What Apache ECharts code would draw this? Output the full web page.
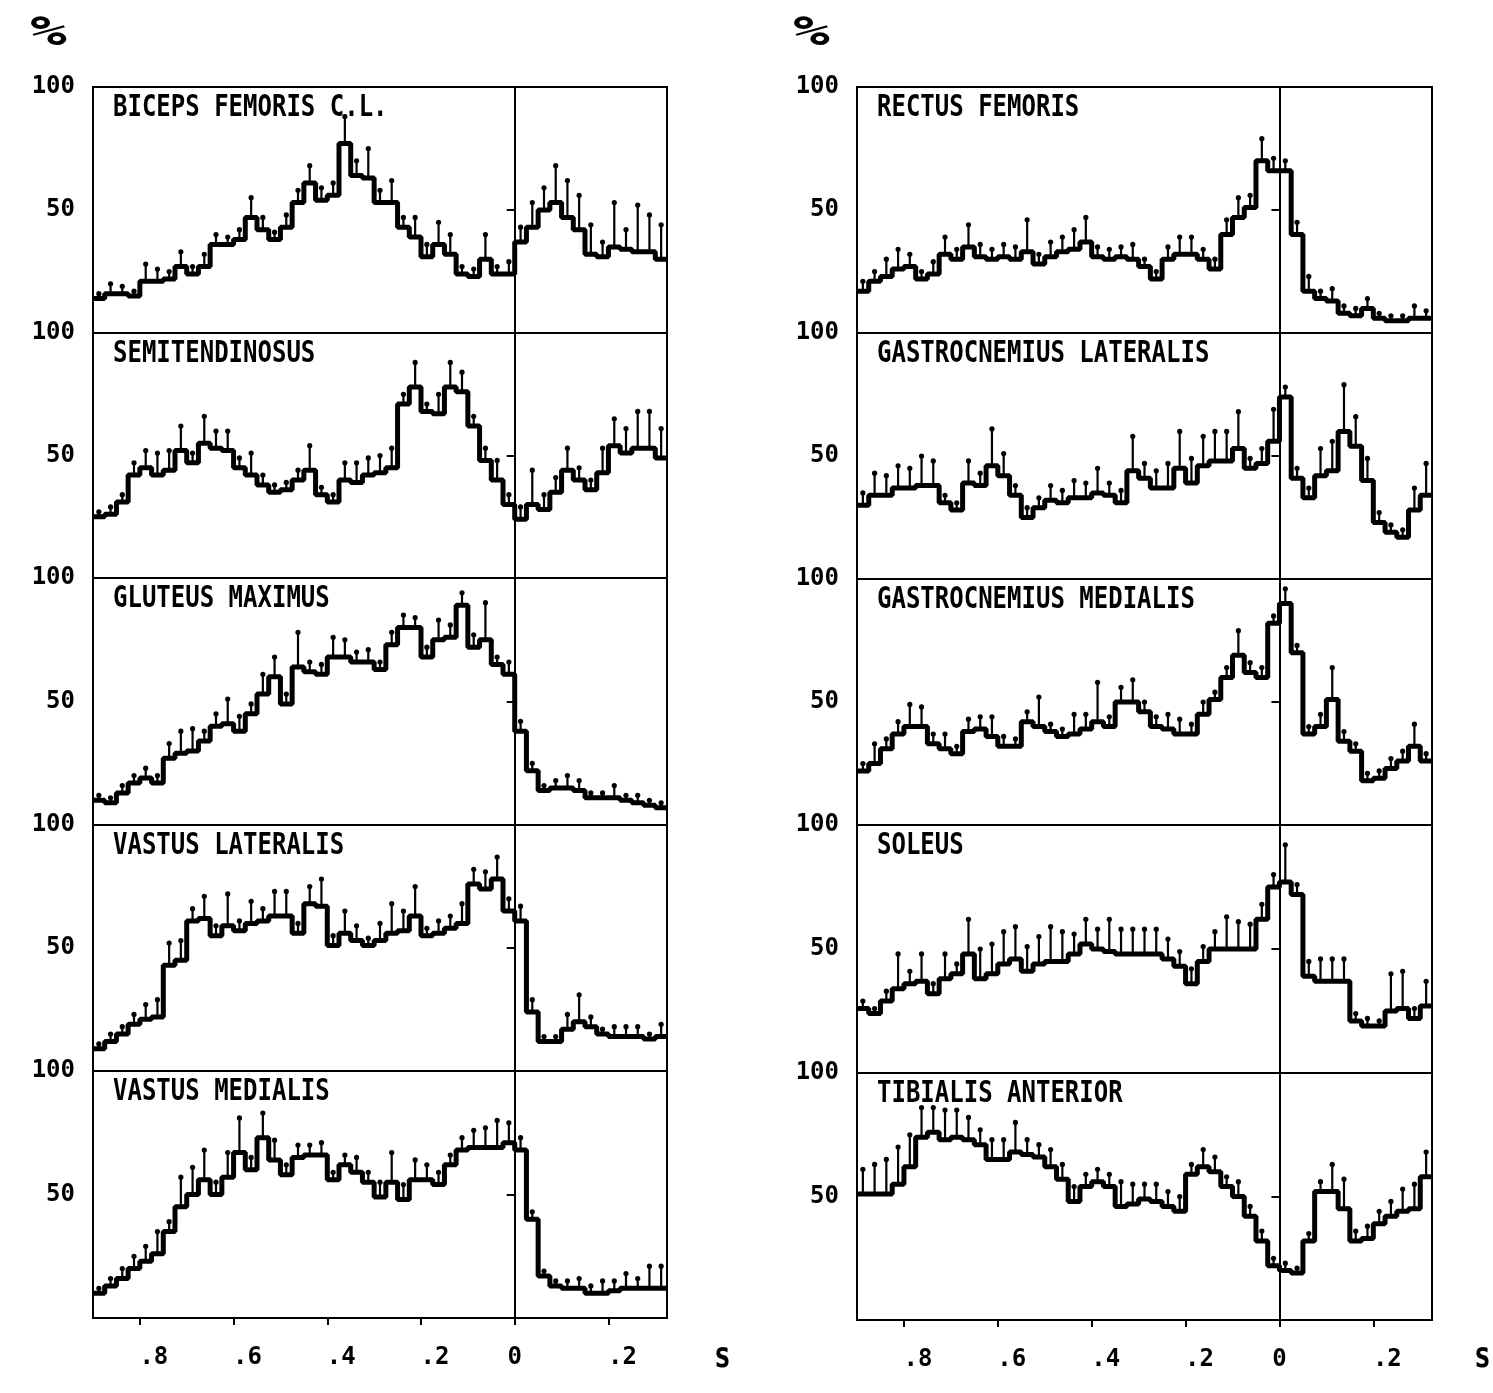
<!DOCTYPE html>
<html>
<head>
<meta charset="utf-8">
<title>EMG</title>
<script src="https://cdn.jsdelivr.net/npm/echarts@6/dist/echarts.min.js"></script>
<style>
  html, body { margin: 0; padding: 0; background: #fff; }
  #chart { width: 1493px; height: 1393px; }
</style>
</head>
<body>
<div id="chart"></div>
<script>
// time bins: 25 ms, from -0.9 s to +0.325 s (49 bins)
const binStart = -0.9
const binWidth = 0.025
const xTicks = [-0.8, -0.6, -0.4, -0.2, 0, 0.2]

const muscleNames = [
  'BICEPS FEMORIS C.L.', 'SEMITENDINOSUS', 'GLUTEUS MAXIMUS', 'VASTUS LATERALIS', 'VASTUS MEDIALIS',
  'RECTUS FEMORIS', 'GASTROCNEMIUS LATERALIS', 'GASTROCNEMIUS MEDIALIS', 'SOLEUS', 'TIBIALIS ANTERIOR'
]

// mean activity (%) per bin
const bicepsMean = [14, 16, 16, 15, 21, 21, 22, 27, 24, 27, 36, 36, 38, 47, 42, 38, 43, 53, 61, 54, 56, 77, 64, 63, 53, 53, 43, 39, 31, 36, 32, 24, 23, 30, 24, 24, 37, 43, 50, 53, 47, 42, 32, 31, 35, 34, 33, 33, 30]
const semitendMean = [25, 26, 31, 42, 45, 42, 44, 52, 47, 55, 53, 52, 45, 42, 38, 35, 36, 40, 44, 34, 31, 40, 39, 42, 43, 45, 71, 78, 68, 67, 78, 76, 62, 48, 40, 30, 24, 30, 28, 35, 44, 40, 36, 43, 54, 51, 53, 53, 49]
const gluteusMean = [10, 9, 13, 17, 19, 17, 27, 29, 30, 34, 40, 41, 38, 45, 53, 60, 49, 64, 62, 61, 68, 68, 66, 66, 63, 73, 80, 80, 68, 75, 76, 89, 72, 75, 65, 61, 38, 22, 14, 15, 15, 14, 11, 11, 11, 10, 9, 8, 7]
const vastLatMean = [9, 12, 15, 19, 21, 22, 43, 45, 61, 62, 55, 59, 57, 60, 61, 63, 63, 56, 68, 67, 51, 56, 53, 51, 53, 56, 57, 63, 55, 56, 58, 60, 76, 74, 78, 65, 61, 24, 12, 12, 17, 20, 18, 15, 14, 14, 14, 13, 14]
const vastMedMean = [10, 13, 16, 20, 23, 26, 35, 45, 50, 56, 50, 57, 67, 60, 73, 64, 58, 65, 66, 66, 56, 62, 59, 55, 49, 55, 48, 56, 56, 54, 62, 68, 69, 69, 69, 71, 68, 40, 17, 13, 12, 12, 10, 10, 11, 12, 12, 12, 12]
const rectusMean = [17, 21, 23, 26, 27, 22, 24, 32, 30, 35, 31, 30, 31, 30, 33, 28, 31, 33, 34, 37, 31, 30, 31, 30, 27, 22, 30, 32, 32, 30, 26, 40, 47, 51, 70, 66, 66, 40, 17, 14, 13, 8, 7, 10, 6, 5, 5, 6, 6]
const gastroLatMean = [30, 34, 34, 37, 37, 38, 38, 31, 28, 39, 38, 46, 42, 34, 25, 29, 32, 31, 33, 33, 35, 34, 31, 44, 41, 37, 37, 45, 39, 46, 48, 48, 53, 45, 47, 56, 74, 41, 33, 42, 44, 60, 54, 40, 23, 19, 17, 28, 34]
const gastroMedMean = [22, 25, 31, 37, 40, 40, 33, 31, 29, 38, 39, 36, 32, 32, 42, 40, 38, 36, 37, 39, 42, 40, 50, 50, 46, 40, 39, 37, 37, 45, 51, 60, 69, 62, 60, 82, 90, 70, 37, 40, 51, 34, 30, 18, 19, 23, 26, 32, 26]
const soleusMean = [26, 24, 29, 34, 36, 37, 32, 38, 40, 48, 38, 40, 44, 46, 41, 44, 45, 45, 48, 52, 50, 49, 48, 48, 48, 48, 46, 43, 36, 45, 50, 50, 50, 50, 62, 75, 77, 72, 39, 37, 37, 37, 21, 19, 19, 25, 26, 22, 27]
const tibialisMean = [51, 51, 51, 55, 62, 74, 76, 73, 74, 73, 71, 65, 65, 68, 67, 66, 62, 57, 48, 54, 56, 54, 46, 47, 49, 48, 46, 44, 59, 62, 60, 54, 50, 42, 32, 22, 20, 19, 32, 52, 52, 45, 32, 33, 39, 42, 44, 45, 58]

// upward error bar (SD) per bin
const bicepsSd = [2, 4, 3, 2, 7, 5, 3, 6, 3, 5, 4, 3, 4, 8, 5, 3, 5, 5, 7, 5, 5, 11, 6, 12, 5, 9, 4, 8, 5, 9, 8, 3, 3, 10, 3, 5, 6, 10, 9, 15, 15, 14, 12, 6, 18, 8, 19, 15, 14]
const semitendSd = [2, 3, 3, 5, 7, 9, 8, 10, 4, 11, 7, 8, 4, 9, 4, 3, 3, 4, 10, 3, 3, 7, 8, 7, 7, 8, 4, 10, 3, 8, 10, 8, 4, 5, 8, 4, 5, 14, 6, 6, 9, 5, 4, 10, 11, 10, 15, 15, 12]
const gluteusSd = [2, 2, 3, 3, 4, 3, 6, 9, 9, 4, 5, 10, 6, 4, 8, 8, 4, 14, 4, 4, 8, 7, 4, 5, 3, 5, 5, 4, 4, 8, 5, 5, 5, 15, 3, 5, 4, 3, 2, 3, 5, 4, 2, 2, 5, 2, 3, 2, 2]
const vastLatSd = [2, 3, 3, 4, 6, 7, 9, 8, 5, 9, 4, 13, 4, 9, 5, 10, 10, 4, 7, 11, 4, 9, 6, 3, 7, 12, 8, 12, 3, 5, 5, 8, 6, 7, 9, 5, 6, 5, 2, 2, 6, 11, 4, 2, 4, 4, 4, 2, 5]
const vastMedSd = [2, 3, 4, 5, 6, 9, 4, 12, 11, 12, 5, 10, 14, 5, 10, 8, 4, 5, 4, 5, 3, 4, 6, 4, 6, 12, 6, 8, 6, 5, 4, 5, 7, 8, 11, 8, 5, 3, 2, 2, 3, 4, 3, 5, 4, 6, 4, 9, 9]
const rectusSd = [4, 4, 7, 8, 5, 3, 5, 7, 4, 9, 5, 4, 5, 5, 13, 4, 6, 6, 8, 10, 4, 4, 4, 6, 3, 3, 5, 7, 7, 4, 4, 6, 8, 5, 9, 5, 4, 5, 6, 3, 5, 3, 3, 4, 2, 2, 2, 5, 3]
const gastroLatSd = [5, 9, 8, 9, 8, 12, 10, 3, 3, 9, 5, 15, 9, 4, 4, 4, 6, 5, 7, 6, 10, 5, 5, 14, 6, 7, 10, 15, 10, 12, 12, 12, 15, 4, 6, 13, 4, 4, 4, 11, 12, 19, 12, 9, 4, 3, 3, 9, 13]
const gastroMedSd = [3, 8, 4, 5, 9, 8, 4, 6, 3, 5, 5, 8, 4, 3, 4, 12, 3, 3, 8, 6, 16, 4, 6, 9, 4, 4, 6, 6, 4, 5, 3, 4, 10, 4, 4, 3, 6, 3, 3, 5, 13, 4, 3, 3, 3, 4, 4, 9, 3]
const soleusSd = [3, 2, 4, 14, 5, 11, 4, 10, 4, 14, 12, 12, 13, 13, 10, 11, 14, 12, 8, 10, 8, 13, 10, 10, 10, 10, 8, 6, 6, 6, 7, 13, 11, 10, 6, 5, 15, 4, 6, 9, 9, 9, 3, 3, 2, 15, 15, 4, 10]
const tibialisSd = [10, 12, 14, 15, 13, 12, 10, 12, 11, 9, 6, 8, 8, 12, 6, 5, 7, 6, 6, 5, 5, 5, 10, 8, 6, 7, 6, 6, 4, 7, 6, 4, 6, 4, 4, 3, 3, 2, 3, 4, 11, 12, 4, 5, 5, 6, 9, 10, 10]

const means = [bicepsMean, semitendMean, gluteusMean, vastLatMean, vastMedMean, rectusMean, gastroLatMean, gastroMedMean, soleusMean, tibialisMean]
const sds = [bicepsSd, semitendSd, gluteusSd, vastLatSd, vastMedSd, rectusSd, gastroLatSd, gastroMedSd, soleusSd, tibialisSd]

// panel frame (pixels)
const colLeft = [93, 857]
const colWidth = [574, 575]
const rowEdges = [[87, 333, 578, 825, 1071, 1318], [87, 333, 579, 825, 1073, 1320]]

// plotter-like lettering: monospace, stretched a bit vertically
const FONT = "'DejaVu Sans Mono', monospace"

const chart = echarts.init(document.getElementById('chart'), null, { renderer: 'canvas' })

const grid = []
const xAxis = []
const yAxis = []
const series = []
const graphic = []

function label (text, x, y, size, sx, sy) {
  return {
    type: 'text',
    x: x,
    y: y,
    scaleX: sx || 1,
    scaleY: sy || 1.25,
    silent: true,
    style: { text: text, font: 'bold ' + size + 'px ' + FONT, fill: '#000', verticalAlign: 'top' }
  }
}

for (let p = 0; p < 10; p++) {
  const col = p < 5 ? 0 : 1
  const row = p % 5
  const top = rowEdges[col][row]
  const height = rowEdges[col][row + 1] - top
  const isBottom = row === 4
  grid.push({
    left: colLeft[col],
    top: top,
    width: colWidth[col],
    height: height,
    show: true,
    borderColor: '#000',
    borderWidth: 2,
    backgroundColor: 'transparent'
  })
  xAxis.push({
    gridIndex: p,
    type: 'value',
    min: -0.9,
    max: 0.325,
    axisLine: { show: isBottom, lineStyle: { color: '#000', width: 2 } },
    splitLine: { show: false },
    axisTick: {
      show: isBottom,
      customValues: xTicks,
      length: 7,
      lineStyle: { color: '#000', width: 2 }
    },
    axisLabel: {
      show: isBottom,
      customValues: xTicks,
      margin: 28,
      formatter: v => {
        if (Math.abs(v) < 1e-9) return '{z|0}'
        return '{n|.' + Math.round(Math.abs(v) * 10) + '}'
      },
      rich: {
        z: { fontFamily: FONT, fontWeight: 'bold', fontSize: 24, color: '#000' },
        n: { fontFamily: FONT, fontWeight: 'bold', fontSize: 24, color: '#000', padding: [0, 0, 0, 28] }
      }
    }
  })
  yAxis.push({
    gridIndex: p,
    type: 'value',
    min: 0,
    max: 100,
    interval: 50,
    axisLine: { show: true, lineStyle: { color: '#000', width: 2 } },
    splitLine: { show: false },
    axisTick: { show: true, length: 8, lineStyle: { color: '#000', width: 2 } },
    axisLabel: {
      margin: 18,
      color: '#000',
      fontFamily: FONT,
      fontWeight: 'bold',
      fontSize: 24,
      formatter: v => (v === 0 ? '' : String(v))
    }
  })

  const m = means[p]
  const sd = sds[p]
  const lineData = m.map((v, i) => [binStart + i * binWidth, v])
  lineData.push([binStart + m.length * binWidth, m[m.length - 1]])
  series.push({
    type: 'line',
    xAxisIndex: p,
    yAxisIndex: p,
    step: 'end',
    symbol: 'none',
    data: lineData,
    lineStyle: { color: '#000', width: 5 },
    z: 3,
    markLine: {
      silent: true,
      symbol: 'none',
      label: { show: false },
      lineStyle: { color: '#000', width: 2, type: 'solid' },
      data: [{ xAxis: 0 }]
    }
  })
  series.push({
    type: 'custom',
    xAxisIndex: p,
    yAxisIndex: p,
    encode: { x: 0, y: 1 },
    data: m.map((v, i) => [binStart + (i + 0.5) * binWidth, v, sd[i]]),
    z: 4,
    renderItem: (params, api) => {
      const x = api.value(0)
      const y = api.value(1)
      const e = api.value(2)
      const a = api.coord([x, y])
      const b = api.coord([x, y + e])
      return {
        type: 'group',
        children: [
          { type: 'line', shape: { x1: a[0], y1: a[1], x2: b[0], y2: b[1] }, style: { stroke: '#000', lineWidth: 2.2 } },
          { type: 'circle', shape: { cx: b[0], cy: b[1], r: 2.6 }, style: { fill: '#000' } }
        ]
      }
    }
  })

  graphic.push(label(muscleNames[p], colLeft[col] + 20, top + 6, 24))
}

// unit marks
graphic.push(label('%', 30, 14, 36, 1.7, 1.12))
graphic.push(label('%', 793, 14, 36, 1.7, 1.12))
graphic.push(label('s', 714, 1340, 28))
graphic.push(label('s', 1474, 1340, 28))

chart.setOption({
  animation: false,
  backgroundColor: '#fff',
  grid,
  xAxis,
  yAxis,
  series,
  graphic
})
</script>
</body>
</html>
